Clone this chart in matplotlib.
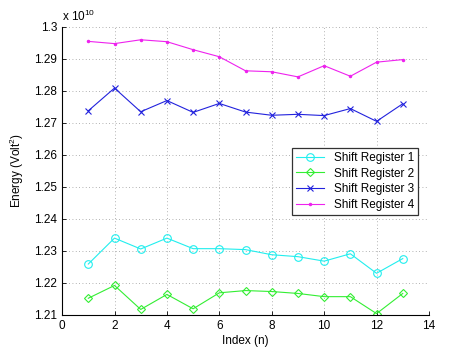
import numpy as np
import matplotlib
matplotlib.use('Agg')
import matplotlib.pyplot as plt

plt.rcParams['font.family'] = ['Liberation Sans', 'DejaVu Sans']
plt.rcParams['mathtext.fontset'] = 'custom'
plt.rcParams['mathtext.rm'] = 'Liberation Sans'

# energy values in units of 1e10 Volt^2
index = [1, 2, 3, 4, 5, 6, 7, 8, 9, 10, 11, 12, 13]
sr1 = [1.2259, 1.2340, 1.2306, 1.2340, 1.2307, 1.2307, 1.2304, 1.2288, 1.2282, 1.2268, 1.2291, 1.2230, 1.2276]
sr2 = [1.2152, 1.2192, 1.2117, 1.2164, 1.2119, 1.2169, 1.2176, 1.2173, 1.2167, 1.2157, 1.2157, 1.2104, 1.2167]
sr3 = [1.2738, 1.2809, 1.2735, 1.2770, 1.2733, 1.2761, 1.2734, 1.2724, 1.2727, 1.2723, 1.2745, 1.2705, 1.2760]
sr4 = [1.2955, 1.2948, 1.2960, 1.2954, 1.2929, 1.2907, 1.2863, 1.2860, 1.2844, 1.2879, 1.2846, 1.2890, 1.2898]
labels = ['Shift Register 1', 'Shift Register 2', 'Shift Register 3', 'Shift Register 4']
yticks = [1.21, 1.22, 1.23, 1.24, 1.25, 1.26, 1.27, 1.28, 1.29, 1.30]
xticks = [0, 2, 4, 6, 8, 10, 12, 14]

fig = plt.figure(figsize=(4.74, 3.55), dpi=100)
ax = fig.add_axes([0.131, 0.113, 0.774, 0.811])

ax.plot(index, sr1, color='#22eeee', lw=0.8, marker='o', ms=5.5, mfc='none', mew=0.8, label=labels[0])
ax.plot(index, sr2, color='#33ee33', lw=0.8, marker='D', ms=4.5, mfc='none', mew=0.8, label=labels[1])
ax.plot(index, sr3, color='#2222dd', lw=0.8, marker='x', ms=4, mew=0.8, label=labels[2])
ax.plot(index, sr4, color='#ee22ee', lw=0.8, marker='.', ms=3, label=labels[3])

ax.set_xlim(0, 14)
ax.set_ylim(1.21, 1.30)
ax.set_xticks(xticks)
ax.set_yticks(yticks)
ax.set_yticklabels(['%g' % v for v in yticks])
ax.tick_params(direction='in', labelsize=8.5, length=3, width=0.6)
ax.grid(True, linestyle=(0, (1, 3)), color='#999999', lw=0.6)
for s in ['top', 'right']:
    ax.spines[s].set_visible(False)
for s in ['left', 'bottom']:
    ax.spines[s].set_linewidth(0.8)

ax.text(0.0, 1.012, 'x 10$^{10}$', transform=ax.transAxes, ha='left', va='bottom', fontsize=8.5)
ax.set_xlabel('Index (n)', fontsize=8.5, labelpad=2)
ax.set_ylabel('Energy (Volt$^2$)', fontsize=8.5, labelpad=6)

leg = ax.legend(loc='upper right', bbox_to_anchor=(0.970, 0.580), fontsize=8.5, fancybox=False,
                edgecolor='#333333', framealpha=1, borderaxespad=0, handlelength=2.4,
                labelspacing=0.3, borderpad=0.35)
leg.get_frame().set_linewidth(0.9)

fig.savefig('out.png', dpi=100)
